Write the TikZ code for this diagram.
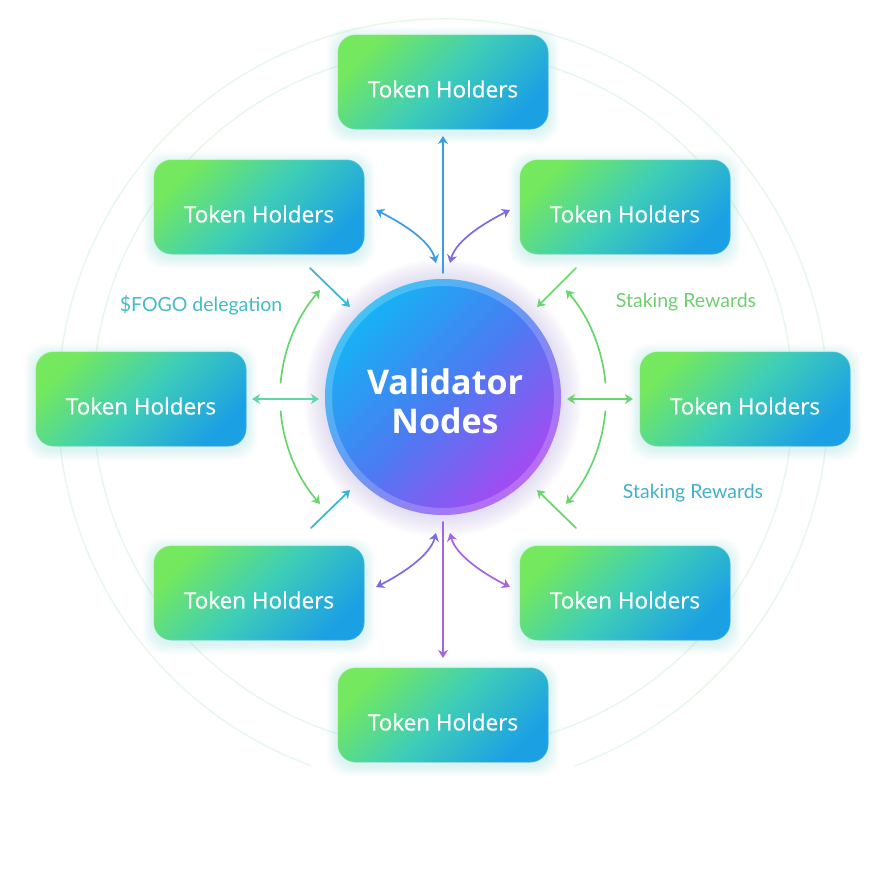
\documentclass[tikz,border=0pt]{standalone}
\usepackage{fontspec}
\setmainfont{Open Sans}
\newfontfamily\boxfont{Open Sans}[FakeBold=0.5]
\newfontfamily\labfont{Lato}
\usetikzlibrary{arrows.meta,calc}
\definecolor{bgreen}{HTML}{74E85E}
\definecolor{bteal}{HTML}{3ECDB8}
\definecolor{bblue}{HTML}{1CA0E4}
\definecolor{cTop}{HTML}{14B4F4}
\definecolor{cMid}{HTML}{4A7CF2}
\definecolor{cBot}{HTML}{A848F2}
\definecolor{boxglow}{HTML}{8FDCE4}
\definecolor{cglow}{HTML}{A8A0F4}
\definecolor{ringc}{HTML}{E6F8EA}
\definecolor{aBlue}{HTML}{3A9EE6}
\definecolor{aTeal}{HTML}{36B6DA}
\definecolor{aGreen}{HTML}{68D66E}
\definecolor{aGreenT}{HTML}{5ED8A4}
\definecolor{aPurple}{HTML}{A664E2}
\definecolor{aPurB}{HTML}{7E6AE4}
\definecolor{lTeal}{HTML}{44BCC4}
\definecolor{lGreen}{HTML}{6ECE70}
\definecolor{lBlue}{HTML}{44AFCB}
\tikzset{
  tip/.tip={Stealth[length=8pt,width=10pt,inset=2.5pt]},
  conn/.style={line width=1.7pt, line cap=round},
  tokbox/.style={rectangle, rounded corners=18pt, minimum width=211pt,
    minimum height=95pt, inner sep=0pt,
    top color=bgreen, bottom color=bblue, middle color=bteal, shading angle=45,
    draw=white, draw opacity=0.25, line width=1.2pt},
  boxtext/.style={text=white, inner sep=0pt, font=\boxfont\fontsize{22.5}{25}\selectfont},
  valnode/.style={circle, minimum size=236pt, inner sep=0pt,
    top color=cTop, bottom color=cBot, middle color=cMid, shading angle=45},
  valtext/.style={text=white, align=center, inner sep=0pt,
    font=\fontsize{34}{39}\selectfont\bfseries},
  lab/.style={font=\labfont\fontsize{19.5}{22}\selectfont}
}
\newcommand{\tokbox}[3]{%
  \foreach \i in {1,...,12}{%
    \fill[boxglow, opacity=0.025, rounded corners=20pt]
      ({#2-105.5-\i*0.9},{-#3+47.5+\i*0.9-3}) rectangle ({#2+105.5+\i*0.9},{-#3-47.5-\i*0.9-3});
  }%
  \node[tokbox] (#1) at (#2,-#3) {};
  \node[boxtext] (#1-text) at ($(#1.center)+(0,-7)$) {Token Holders};
}
\begin{document}
\begin{tikzpicture}[x=1pt,y=1pt]
\fill[white] (0,0) rectangle (870,-870);
\useasboundingbox (0,0) rectangle (870,-870);
% background rings
\draw[ringc, line width=1.4pt] (443,-404) ++(290:385pt) arc[start angle=290, end angle=610, radius=385pt];
\draw[ringc, line width=1.4pt] (443,-400) circle[radius=350pt];
% boxes
\tokbox{t}{443}{82}
\tokbox{tl}{259}{207}
\tokbox{tr}{625}{207}
\tokbox{l}{141}{399}
\tokbox{r}{745}{399}
\tokbox{bl}{259}{593}
\tokbox{br}{625}{593}
\tokbox{b}{443}{715}
% central node glow
\foreach \i in {1,...,14}{%
  \fill[cglow, opacity=0.022] (443,-398) circle[radius={(118+\i*1.5)*1pt}];
}
\node[valnode] (v) at (443,-397) {};
\draw[white, opacity=0.2, line width=7pt] (v.center) circle[radius=114.5pt];
\node[valtext] (vtext) at (445,-401) {Validator\\Nodes};
% labels
\node[lab, text=lTeal] (lab1) at (201,-305) {\$FOGO delegation};
\node[lab, text=lGreen] (lab2) at (686,-302) {Staking Rewards};
\node[lab, text=lBlue] (lab3) at (693,-493) {Staking Rewards};
% coordinates
\coordinate (tA) at (443,-273); \coordinate (tB) at (443,-136);
\coordinate (bA) at (443,-522); \coordinate (bB) at (443,-658);
\coordinate (ulA) at (376,-210); \coordinate (ulB) at (436,-263);
\coordinate (urA) at (510,-210); \coordinate (urB) at (450,-263);
\coordinate (llA) at (376,-587); \coordinate (llB) at (436,-533);
\coordinate (lrA) at (510,-587); \coordinate (lrB) at (450,-533);
\coordinate (d1A) at (310,-268); \coordinate (d1B) at (350,-307);
\coordinate (d2A) at (576,-268); \coordinate (d2B) at (537,-307);
\coordinate (d3A) at (311,-528); \coordinate (d3B) at (350,-490);
\coordinate (d4A) at (576,-528); \coordinate (d4B) at (537,-490);
\coordinate (hlA) at (252,-399); \coordinate (hlB) at (319,-399);
\coordinate (hrA) at (567,-399); \coordinate (hrB) at (633,-399);
% vertical arrows
\draw[conn, aBlue, -{tip}] (tA) -- (tB);
\draw[conn, aPurple, -{tip}] (bA) -- (bB);
% curved double arrows
\draw[conn, aBlue, {tip}-{tip}] (ulA) .. controls (400,-222) and (430,-240) .. (ulB);
\draw[conn, aPurB, {tip}-{tip}] (urA) .. controls (486,-222) and (456,-240) .. (urB);
\draw[conn, aPurB, {tip}-{tip}] (llB) .. controls (430,-556) and (400,-575) .. (llA);
\draw[conn, aPurple, {tip}-{tip}] (lrB) .. controls (456,-556) and (486,-575) .. (lrA);
% diagonal arrows
\draw[conn, aTeal, -{tip}] (d1A) -- (d1B);
\draw[conn, aGreen, -{tip}] (d2A) -- (d2B);
\draw[conn, aTeal, -{tip}] (d3A) -- (d3B);
\draw[conn, aGreen, -{tip}] (d4A) -- (d4B);
% horizontal double arrows
\draw[conn, aGreenT, {tip}-{tip}] (hlA) -- (hlB);
\draw[conn, aGreen, {tip}-{tip}] (hrA) -- (hrB);
% arcs
\draw[conn, aGreen, -{tip}] (v.center) ++(175:163pt) arc[start angle=175, end angle=139, radius=163pt];
\draw[conn, aGreen, -{tip}] (v.center) ++(185:163pt) arc[start angle=185, end angle=221, radius=163pt];
\draw[conn, aGreen, -{tip}] (v.center) ++(5:163pt) arc[start angle=5, end angle=41, radius=163pt];
\draw[conn, aGreen, -{tip}] (v.center) ++(355:163pt) arc[start angle=355, end angle=319, radius=163pt];
\end{tikzpicture}
\end{document}
